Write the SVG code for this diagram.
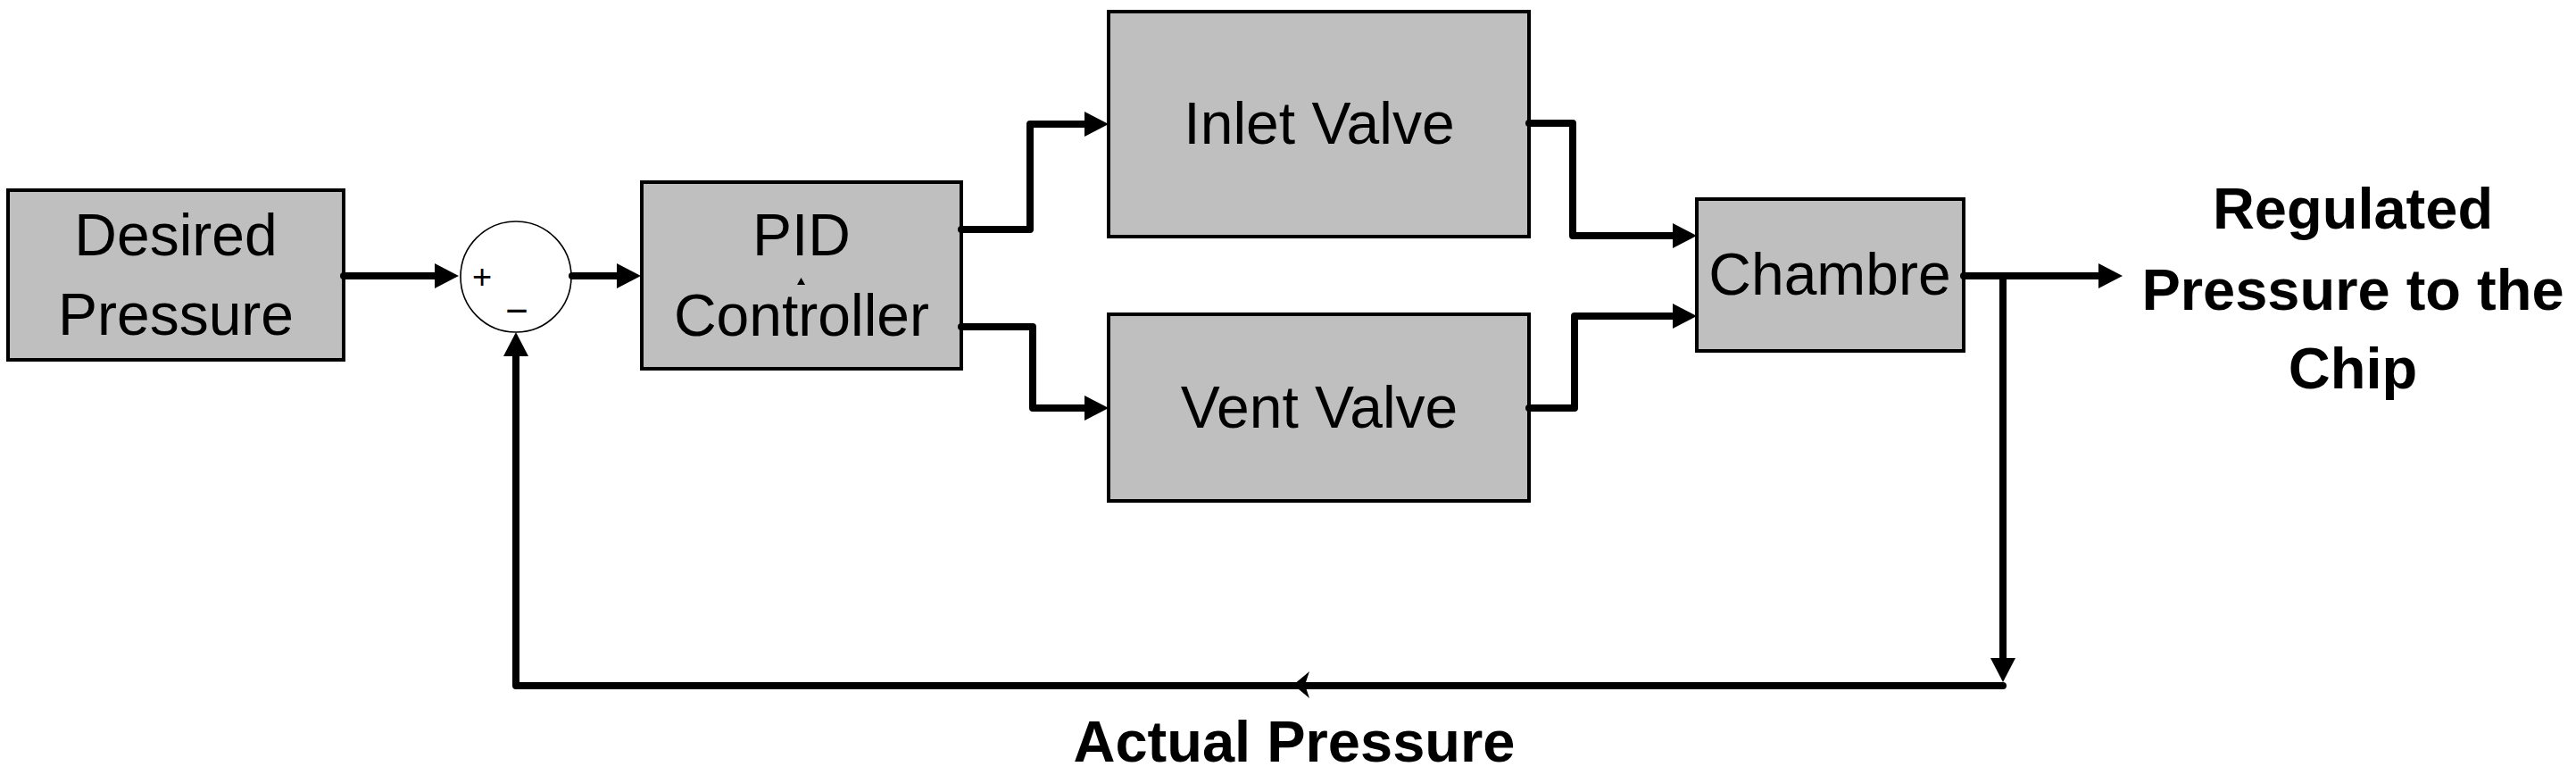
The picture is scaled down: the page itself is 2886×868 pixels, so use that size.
<svg xmlns="http://www.w3.org/2000/svg" width="2886" height="868" viewBox="0 0 2886 868">
  <style>
    .box { fill: #BFBFBF; stroke: #000; stroke-width: 4; }
    .lbl { font-family: "Liberation Sans", Arial, sans-serif; font-size: 66px; fill: #000; text-anchor: middle; }
    .bold { font-family: "Liberation Sans", Arial, sans-serif; font-size: 65px; font-weight: bold; fill: #000; text-anchor: middle; }
    .wire { fill: none; stroke: #000; stroke-width: 8; stroke-linejoin: round; stroke-linecap: round; }
    .sign { font-family: "Liberation Sans", Arial, sans-serif; fill: #000; text-anchor: middle; }
  </style>
  <defs>
    <marker id="arrow" markerUnits="userSpaceOnUse" markerWidth="27" markerHeight="28" viewBox="0 0 27 28" refX="1" refY="14" orient="auto" overflow="visible">
      <path d="M0,0 L27,14 L0,28 Z" fill="#000"/>
    </marker>
  </defs>
  <rect width="2886" height="868" fill="#fff"/>

  <g id="desired">
    <rect class="box" x="9" y="213" width="376" height="190"/>
    <text class="lbl" x="197" y="286">Desired</text>
    <text class="lbl" x="197" y="375">Pressure</text>
  </g>

  <g id="sum">
    <circle cx="578" cy="310" r="62" fill="#fff" stroke="#000" stroke-width="1.6"/>
    <text class="sign" x="540" y="323" font-size="38">+</text>
    <text class="sign" x="579" y="363" font-size="44">−</text>
  </g>

  <g id="pid">
    <rect class="box" x="719" y="204" width="358" height="209"/>
    <text class="lbl" x="898" y="286">PID</text>
    <polygon points="893,319 902,319 897.5,311" fill="#000"/>
    <text class="lbl" x="898" y="376">Controller</text>
  </g>

  <g id="inlet">
    <rect class="box" x="1242" y="13" width="471" height="252"/>
    <text class="lbl" x="1478" y="161">Inlet Valve</text>
  </g>

  <g id="vent">
    <rect class="box" x="1242" y="352" width="471" height="209"/>
    <text class="lbl" x="1478" y="479">Vent Valve</text>
  </g>

  <g id="chamber">
    <rect class="box" x="1901" y="223" width="299" height="170"/>
    <text class="lbl" x="2050" y="330">Chambre</text>
  </g>

  <g id="connectors">
    <path class="wire" d="M385,309 H488" marker-end="url(#arrow)"/>
    <path class="wire" d="M641,309 H692" marker-end="url(#arrow)"/>
    <path class="wire" d="M1077,257 H1154 V139 H1216" marker-end="url(#arrow)"/>
    <path class="wire" d="M1077,366 H1157 V457 H1216" marker-end="url(#arrow)"/>
    <path class="wire" d="M1713,138 H1762 V264 H1875" marker-end="url(#arrow)"/>
    <path class="wire" d="M1713,457 H1764 V354 H1875" marker-end="url(#arrow)"/>
    <path class="wire" d="M2200,309 H2352" marker-end="url(#arrow)"/>
    <path class="wire" d="M2244,312 V738" style="stroke-linecap:butt" marker-end="url(#arrow)"/>
    <path class="wire" d="M2244,768 H578 V398" marker-end="url(#arrow)"/>
    <polygon points="1449,767 1467,752 1462,767 1467,782" fill="#000"/>
  </g>

  <g id="labels">
    <text class="bold" x="2636" y="256">Regulated</text>
    <text class="bold" x="2636" y="347">Pressure to the</text>
    <text class="bold" x="2636" y="435">Chip</text>
    <text class="bold" x="1450" y="853">Actual Pressure</text>
  </g>
</svg>
